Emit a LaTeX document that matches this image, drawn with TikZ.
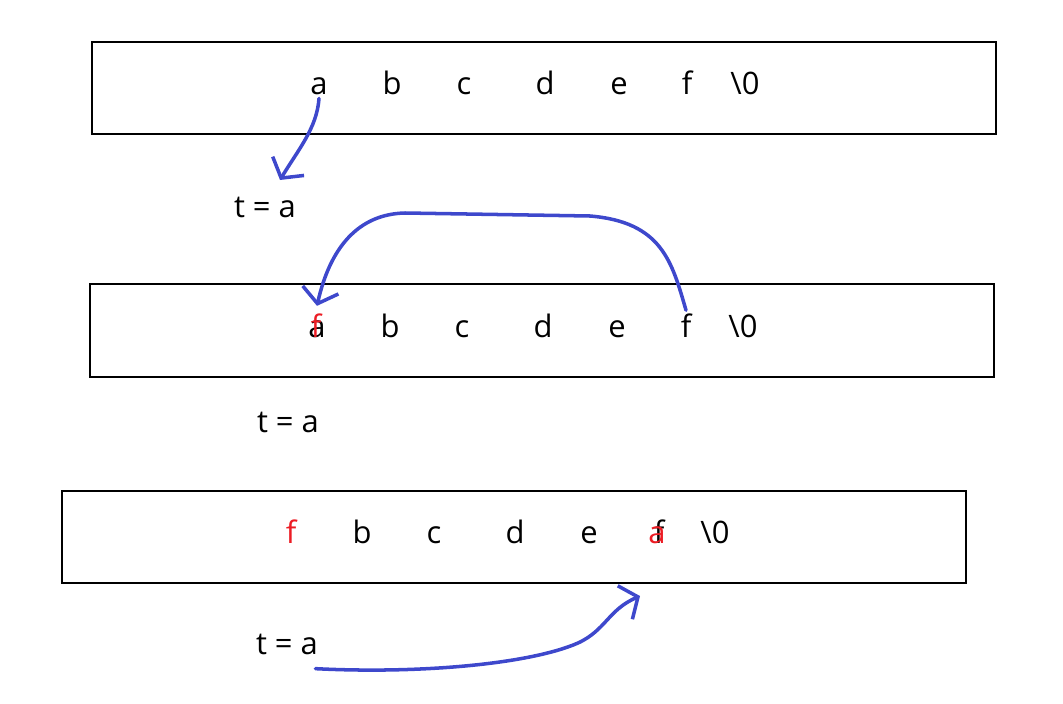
\documentclass[tikz,border=0pt]{standalone}
\usepackage{fontspec}
\setmainfont{Open Sans}
\usetikzlibrary{arrows.meta}
\definecolor{penblue}{RGB}{62,72,204}
\definecolor{markred}{RGB}{236,28,36}
\tikzset{
  box/.style={draw, line width=1.4pt},
  chr/.style={anchor=base, inner sep=2pt, font=\fontsize{22}{26}\selectfont},
  redchr/.style={chr, text=markred},
  tmp/.style={anchor=base, inner sep=2pt, font=\fontsize{22}{26}\selectfont},
  pen/.style={draw=penblue, line width=2.5pt, line cap=round, line join=round,
    -{Straight Barb[length=10pt,width=26pt,line width=2.5pt]}}
}

\begin{document}
\begin{tikzpicture}[x=0.025cm, y=-0.025cm]
\useasboundingbox (0,0) rectangle (1063,703);
% Row 1
\draw[box] (92,42) rectangle (996,134);
\node[chr] (a1) at (319,95) {a};
\node[chr] (b1) at (392,95) {b};
\node[chr] (c1) at (464,95) {c};
\node[chr] (d1) at (545,95) {d};
\node[chr] (e1) at (619,95) {e};
\node[chr] (f1) at (687,95) {f};
\node[chr] (z1) at (745,95) {\textbackslash 0};
\node[tmp] (t1) at (265,217) {t = a};
\coordinate (land1) at (280,180);
\draw[pen] (a1.south) .. controls (317,128) and (298,150) .. (land1);
% Row 2
\draw[box] (90,284) rectangle (994,377);
\node[chr] (a2) at (317,337) {a};
\node[redchr] (r2) at (316,337) {f};
\node[chr] (b2) at (390,337) {b};
\node[chr] (c2) at (462,337) {c};
\node[chr] (d2) at (543,337) {d};
\node[chr] (e2) at (617,337) {e};
\node[chr] (f2) at (686,337) {f};
\node[chr] (z2) at (743,337) {\textbackslash 0};
\node[tmp] (t2) at (288,432) {t = a};
\draw[pen] (f2.north) .. controls (672,262) and (662,222) .. (590,216)
  -- (405,213) .. controls (358,214) and (330,248) .. ([yshift=8pt]a2.north);
% Row 3
\draw[box] (62,491) rectangle (966,583);
\node[redchr] (r3) at (291,543) {f};
\node[chr] (b3) at (362,543) {b};
\node[chr] (c3) at (434,543) {c};
\node[chr] (d3) at (515,543) {d};
\node[chr] (e3) at (589,543) {e};
\node[chr] (f3) at (659,543) {f};
\node[redchr] (s3) at (657,543) {a};
\node[chr] (z3) at (715,543) {\textbackslash 0};
\node[tmp] (t3) at (287,654) {t = a};
\coordinate (land3) at (640,596);
\draw[pen] ([xshift=-4pt,yshift=-8pt]t3.south east) .. controls (420,674) and (530,664) .. (578,643)
  .. controls (606,630) and (608,610) .. (land3);
\end{tikzpicture}
\end{document}
